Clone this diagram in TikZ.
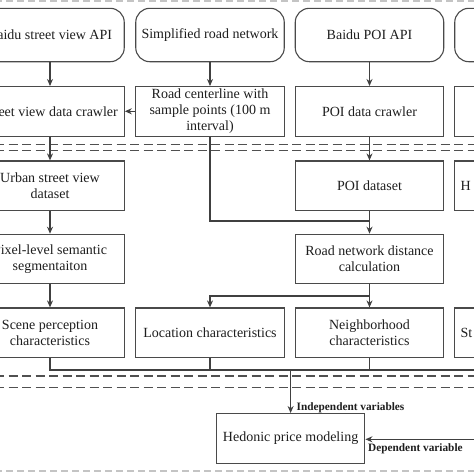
\documentclass[tikz,border=0pt]{standalone}
\usepackage{fontspec}
\setmainfont{Liberation Serif}
\usetikzlibrary{arrows.meta,calc}
\definecolor{boxc}{HTML}{4A4A4A}
\definecolor{linec}{HTML}{404040}
\definecolor{sepc}{HTML}{505050}
\definecolor{framec}{HTML}{C4C4C4}
\definecolor{txtc}{HTML}{1E1E1E}
\begin{document}
\begin{tikzpicture}[x=1pt,y=-1pt,
  box/.style={draw=boxc, line width=1.1pt, minimum width=148.5pt, minimum height=49.5pt, align=center, inner sep=2pt, font=\fontsize{14}{16.2}\selectfont, text=txtc},
  api/.style={box, rounded corners=14pt, minimum height=53.4pt},
  arr/.style={draw=linec, line width=1.1pt, -{Stealth[length=7pt,width=6pt]}},
  ln/.style={draw=linec, line width=1.1pt},
  sepline/.style={draw=sepc, line width=1.1pt, dash pattern=on 9pt off 4.5pt},
  framel/.style={draw=framec, line width=2.5pt, dash pattern=on 7pt off 4pt},
  lab/.style={font=\bfseries\fontsize{11.3}{13}\selectfont, text=txtc, inner sep=0pt},
  part/.style={font=\fontsize{14}{16.2}\selectfont, text=txtc, inner sep=0pt}
]
\useasboundingbox (0,0) rectangle (474,474);
\clip (0,0) rectangle (474,474);
\fill[white] (0,0) rectangle (474,474);

% outer light frame lines
\draw[framel] (-5,1.2) -- (480,1.2);
\draw[framel] (-5,471) -- (480,471);

% row 1
\node[api] (api1) at (50,35) {Baidu street view API};
\node[api] (api2) at (210,35) {Simplified road network};
\node[api] (api3) at (369.5,35) {Baidu POI API};
\node[api] (api4) at (529,35) {};
% row 2
\node[box] (crw1) at (50,111.3) {Street view data crawler};
\node[box] (road) at (210,111.3) {Road centerline with\\sample points (100 m\\interval)};
\node[box] (crw3) at (369.5,111.3) {POI data crawler};
\node[box] (crw4) at (529,111.3) {};
% separators
\draw[sepline] (-5,144.3) -- (480,144.3);
\draw[sepline] (-5,150.7) -- (480,150.7);
% row 3
\node[box] (ds1) at (50,185.7) {Urban street view\\dataset};
\node[box] (ds3) at (369.5,185.7) {POI dataset};
\node[box] (ds4) at (529,185.7) {};
\node[part, anchor=base west] (ds4t) at (460.5,190.5) {H};
% row 4
\node[box] (seg1) at (50,259) {Pixel-level semantic\\segmentaiton};
\node[box] (dist) at (369.5,259) {Road network distance\\calculation};
% row 5
\node[box] (sc1) at (50,332.7) {Scene perception\\characteristics};
\node[box] (loc) at (210,332.7) {Location characteristics};
\node[box] (nb) at (369.5,332.7) {Neighborhood\\characteristics};
\node[box] (st4) at (529,332.7) {};
\node[part, anchor=base west] (st4t) at (460.5,337.5) {St};
% separators
\draw[sepline] (-5,376) -- (480,376);
\draw[sepline] (-5,387.7) -- (480,387.7);
% modeling
\node[box] (hed) at (290.6,438.3) {Hedonic price modeling};

% connectors
\draw[arr] (api1) -- (crw1);
\draw[arr] (api2) -- (road);
\draw[arr] (api3) -- (crw3);
\draw[arr] (road) -- (crw1);
\draw[arr] (crw1) -- (ds1);
\draw[arr] (crw3) -- (ds3);
\draw[arr] (ds3) -- (dist);
\coordinate (j1) at (369.5,221);
\draw[ln] (road.south) |- (j1);
\draw[arr] (ds1) -- (seg1);
\draw[arr] (seg1) -- (sc1);
\draw[arr] (dist) -- (nb);
\coordinate (j2) at (369.5,296);
\draw[arr] (j2) -| (loc.north);
\coordinate (busR) at (480,370);
\draw[ln] (sc1.south) |- (busR);
\draw[ln] (loc.south) -- (loc.south |- busR);
\draw[ln] (nb.south) -- (nb.south |- busR);
\draw[ln] (st4.south) -- (st4.south |- busR);
\draw[arr] (hed.north |- busR) -- (hed.north);
\node[lab, anchor=base west] (indep) at (296.5,410.8) {Independent variables};
\coordinate (dvR) at (480,439.3);
\draw[arr] (dvR) -- (hed.east |- dvR);
\node[lab, anchor=base west] (dep) at (368,451.5) {Dependent variable};
\end{tikzpicture}
\end{document}
